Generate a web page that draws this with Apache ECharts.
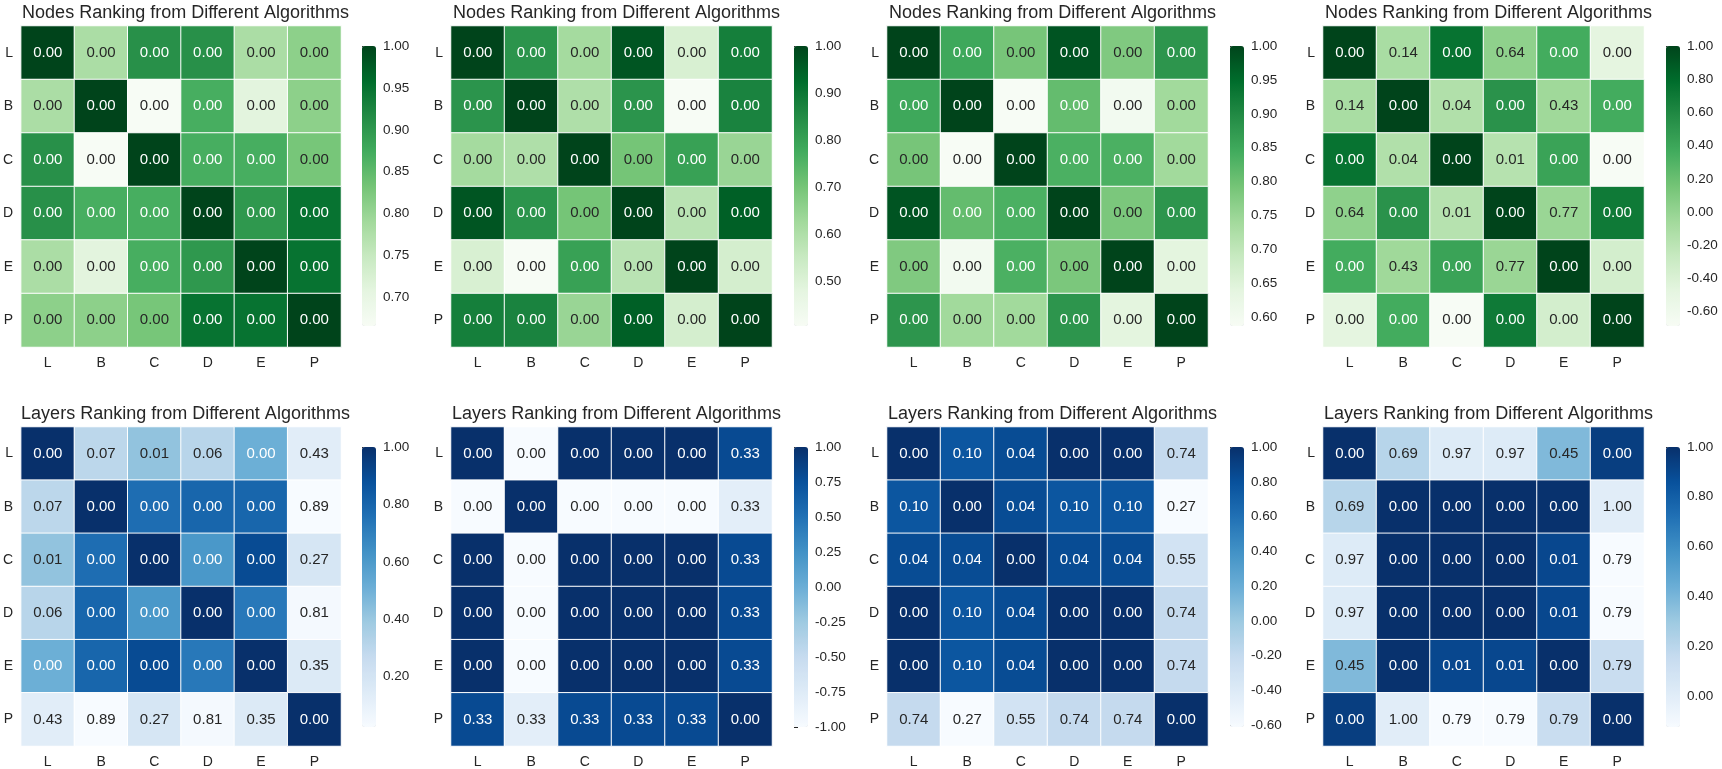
<!DOCTYPE html>
<html><head><meta charset="utf-8">
<script src="https://cdn.jsdelivr.net/npm/echarts@6/dist/echarts.min.js"></script>
<style>html,body{margin:0;padding:0;background:#fff}#c{width:1722px;height:769px}</style>
</head><body><div id="c"></div>
<script>
// ---------- data ----------
const categories = ['L', 'B', 'C', 'D', 'E', 'P'];
const nodesTitle = 'Nodes Ranking from Different Algorithms';
const layersTitle = 'Layers Ranking from Different Algorithms';

// colour values (correlations)
const nodesCorr1 = [
  [1.00, 0.78, 0.91, 0.91, 0.78, 0.81],
  [0.78, 1.00, 0.666, 0.87, 0.71, 0.81],
  [0.91, 0.666, 1.00, 0.87, 0.87, 0.83],
  [0.91, 0.87, 0.87, 1.00, 0.90, 0.95],
  [0.78, 0.71, 0.87, 0.90, 1.00, 0.95],
  [0.81, 0.81, 0.83, 0.95, 0.95, 1.00]
];
const nodesCorr2 = [
  [1.00, 0.83, 0.62, 0.97, 0.51, 0.88],
  [0.83, 1.00, 0.60, 0.83, 0.404, 0.87],
  [0.62, 0.60, 1.00, 0.70, 0.80, 0.64],
  [0.97, 0.83, 0.70, 1.00, 0.58, 0.95],
  [0.51, 0.404, 0.80, 0.58, 1.00, 0.52],
  [0.88, 0.87, 0.64, 0.95, 0.52, 1.00]
];
const nodesCorr3 = [
  [1.00, 0.85, 0.79, 0.98, 0.78, 0.88],
  [0.85, 1.00, 0.587, 0.81, 0.60, 0.74],
  [0.79, 0.587, 1.00, 0.835, 0.835, 0.74],
  [0.98, 0.81, 0.835, 1.00, 0.785, 0.88],
  [0.78, 0.60, 0.835, 0.785, 1.00, 0.64],
  [0.88, 0.74, 0.74, 0.88, 0.64, 1.00]
];
const nodesCorr4 = [
  [1.00, -0.10, 0.75, 0.03, 0.36, -0.48],
  [-0.10, 1.00, -0.14, 0.53, -0.05, 0.36],
  [0.75, -0.14, 1.00, -0.17, 0.42, -0.686],
  [0.03, 0.53, -0.17, 1.00, -0.02, 0.70],
  [0.36, -0.05, 0.42, -0.02, 1.00, -0.35],
  [-0.48, 0.36, -0.686, 0.70, -0.35, 1.00]
];
const layersCorr1 = [
  [1.00, 0.30, 0.42, 0.31, 0.51, 0.13],
  [0.30, 1.00, 0.77, 0.80, 0.80, 0.025],
  [0.42, 0.77, 1.00, 0.61, 0.90, 0.185],
  [0.31, 0.80, 0.61, 1.00, 0.73, 0.04],
  [0.51, 0.80, 0.90, 0.73, 1.00, 0.157],
  [0.13, 0.025, 0.185, 0.04, 0.157, 1.00]
];
const layersCorr2 = [
  [1.00, -1.00, 1.00, 1.00, 1.00, 0.80],
  [-1.00, 1.00, -1.00, -1.00, -1.00, -0.80],
  [1.00, -1.00, 1.00, 1.00, 1.00, 0.80],
  [1.00, -1.00, 1.00, 1.00, 1.00, 0.80],
  [1.00, -1.00, 1.00, 1.00, 1.00, 0.80],
  [0.80, -0.80, 0.80, 0.80, 0.80, 1.00]
];
const layersCorr3 = [
  [1.00, 0.77, 0.83, 1.00, 1.00, -0.20],
  [0.77, 1.00, 0.83, 0.77, 0.77, -0.61],
  [0.83, 0.83, 1.00, 0.83, 0.83, -0.31],
  [1.00, 0.77, 0.83, 1.00, 1.00, -0.20],
  [1.00, 0.77, 0.83, 1.00, 1.00, -0.20],
  [-0.20, -0.61, -0.31, -0.20, -0.20, 1.00]
];
const layersCorr4 = [
  [1.00, 0.21, 0.02, 0.02, 0.38, 0.94],
  [0.21, 1.00, 1.00, 1.00, 0.99, 0.00],
  [0.02, 1.00, 1.00, 1.00, 0.90, -0.125],
  [0.02, 1.00, 1.00, 1.00, 0.90, -0.125],
  [0.38, 0.99, 0.90, 0.90, 1.00, 0.14],
  [0.94, 0.00, -0.125, -0.125, 0.14, 1.00]
];

// annotation values written in the cells
const nodesP1 = [
  [0.00, 0.00, 0.00, 0.00, 0.00, 0.00],
  [0.00, 0.00, 0.00, 0.00, 0.00, 0.00],
  [0.00, 0.00, 0.00, 0.00, 0.00, 0.00],
  [0.00, 0.00, 0.00, 0.00, 0.00, 0.00],
  [0.00, 0.00, 0.00, 0.00, 0.00, 0.00],
  [0.00, 0.00, 0.00, 0.00, 0.00, 0.00]
];
const nodesP2 = [
  [0.00, 0.00, 0.00, 0.00, 0.00, 0.00],
  [0.00, 0.00, 0.00, 0.00, 0.00, 0.00],
  [0.00, 0.00, 0.00, 0.00, 0.00, 0.00],
  [0.00, 0.00, 0.00, 0.00, 0.00, 0.00],
  [0.00, 0.00, 0.00, 0.00, 0.00, 0.00],
  [0.00, 0.00, 0.00, 0.00, 0.00, 0.00]
];
const nodesP3 = [
  [0.00, 0.00, 0.00, 0.00, 0.00, 0.00],
  [0.00, 0.00, 0.00, 0.00, 0.00, 0.00],
  [0.00, 0.00, 0.00, 0.00, 0.00, 0.00],
  [0.00, 0.00, 0.00, 0.00, 0.00, 0.00],
  [0.00, 0.00, 0.00, 0.00, 0.00, 0.00],
  [0.00, 0.00, 0.00, 0.00, 0.00, 0.00]
];
const nodesP4 = [
  [0.00, 0.14, 0.00, 0.64, 0.00, 0.00],
  [0.14, 0.00, 0.04, 0.00, 0.43, 0.00],
  [0.00, 0.04, 0.00, 0.01, 0.00, 0.00],
  [0.64, 0.00, 0.01, 0.00, 0.77, 0.00],
  [0.00, 0.43, 0.00, 0.77, 0.00, 0.00],
  [0.00, 0.00, 0.00, 0.00, 0.00, 0.00]
];
const layersP1 = [
  [0.00, 0.07, 0.01, 0.06, 0.00, 0.43],
  [0.07, 0.00, 0.00, 0.00, 0.00, 0.89],
  [0.01, 0.00, 0.00, 0.00, 0.00, 0.27],
  [0.06, 0.00, 0.00, 0.00, 0.00, 0.81],
  [0.00, 0.00, 0.00, 0.00, 0.00, 0.35],
  [0.43, 0.89, 0.27, 0.81, 0.35, 0.00]
];
const layersP2 = [
  [0.00, 0.00, 0.00, 0.00, 0.00, 0.33],
  [0.00, 0.00, 0.00, 0.00, 0.00, 0.33],
  [0.00, 0.00, 0.00, 0.00, 0.00, 0.33],
  [0.00, 0.00, 0.00, 0.00, 0.00, 0.33],
  [0.00, 0.00, 0.00, 0.00, 0.00, 0.33],
  [0.33, 0.33, 0.33, 0.33, 0.33, 0.00]
];
const layersP3 = [
  [0.00, 0.10, 0.04, 0.00, 0.00, 0.74],
  [0.10, 0.00, 0.04, 0.10, 0.10, 0.27],
  [0.04, 0.04, 0.00, 0.04, 0.04, 0.55],
  [0.00, 0.10, 0.04, 0.00, 0.00, 0.74],
  [0.00, 0.10, 0.04, 0.00, 0.00, 0.74],
  [0.74, 0.27, 0.55, 0.74, 0.74, 0.00]
];
const layersP4 = [
  [0.00, 0.69, 0.97, 0.97, 0.45, 0.00],
  [0.69, 0.00, 0.00, 0.00, 0.00, 1.00],
  [0.97, 0.00, 0.00, 0.00, 0.01, 0.79],
  [0.97, 0.00, 0.00, 0.00, 0.01, 0.79],
  [0.45, 0.00, 0.01, 0.01, 0.00, 0.79],
  [0.00, 1.00, 0.79, 0.79, 0.79, 0.00]
];

// colour bar tick labels
const nodesTicks1 = [0.70, 0.75, 0.80, 0.85, 0.90, 0.95, 1.00];
const nodesTicks2 = [0.50, 0.60, 0.70, 0.80, 0.90, 1.00];
const nodesTicks3 = [0.60, 0.65, 0.70, 0.75, 0.80, 0.85, 0.90, 0.95, 1.00];
const nodesTicks4 = [-0.60, -0.40, -0.20, 0.00, 0.20, 0.40, 0.60, 0.80, 1.00];
const layersTicks1 = [0.20, 0.40, 0.60, 0.80, 1.00];
const layersTicks2 = [-1.00, -0.75, -0.50, -0.25, 0.00, 0.25, 0.50, 0.75, 1.00];
const layersTicks3 = [-0.60, -0.40, -0.20, 0.00, 0.20, 0.40, 0.60, 0.80, 1.00];
const layersTicks4 = [0.00, 0.20, 0.40, 0.60, 0.80, 1.00];

// ---------- styles / layout ----------
const GREENS = ['#f7fcf5', '#e5f5e0', '#c7e9c0', '#a1d99b', '#74c476', '#41ab5d', '#238b45', '#006d2c', '#00441b'];
const BLUES = ['#f7fbff', '#deebf7', '#c6dbef', '#9ecae1', '#6baed6', '#4292c6', '#2171b5', '#08519c', '#08306b'];
const FONT = '"Liberation Sans", Arial, Helvetica, sans-serif';
const TXT = '#262626';

const panels = [
  { title: nodesTitle, r: nodesCorr1, p: nodesP1, ticks: nodesTicks1, cmap: GREENS, row: 0, col: 0 },
  { title: nodesTitle, r: nodesCorr2, p: nodesP2, ticks: nodesTicks2, cmap: GREENS, row: 0, col: 1 },
  { title: nodesTitle, r: nodesCorr3, p: nodesP3, ticks: nodesTicks3, cmap: GREENS, row: 0, col: 2 },
  { title: nodesTitle, r: nodesCorr4, p: nodesP4, ticks: nodesTicks4, cmap: GREENS, row: 0, col: 3 },
  { title: layersTitle, r: layersCorr1, p: layersP1, ticks: layersTicks1, cmap: BLUES, row: 1, col: 0 },
  { title: layersTitle, r: layersCorr2, p: layersP2, ticks: layersTicks2, cmap: BLUES, row: 1, col: 1 },
  { title: layersTitle, r: layersCorr3, p: layersP3, ticks: layersTicks3, cmap: BLUES, row: 1, col: 2 },
  { title: layersTitle, r: layersCorr4, p: layersP4, ticks: layersTicks4, cmap: BLUES, row: 1, col: 3 }
];

const colX = [20, 451, 887, 1323];
const rowY = [26, 427];
const hmW = 321, hmH = 321;
const cbX = [362, 794, 1230, 1666];
const cbY = [46, 447];
const cbW = 14, cbH = 280;

function hexToRgb(h) { return [1, 3, 5].map(i => parseInt(h.substr(i, 2), 16)); }
function cmapAt(stops, t) {
  t = Math.max(0, Math.min(1, t));
  const s = t * (stops.length - 1);
  const i = Math.min(stops.length - 2, Math.floor(s));
  const f = s - i;
  const a = hexToRgb(stops[i]), b = hexToRgb(stops[i + 1]);
  return a.map((v, k) => v + (b[k] - v) * f);
}
function lum(rgb) {
  const c = rgb.map(v => { v /= 255; return v <= 0.03928 ? v / 12.92 : Math.pow((v + 0.055) / 1.055, 2.4); });
  return 0.2126 * c[0] + 0.7152 * c[1] + 0.0722 * c[2];
}

const option = {
  backgroundColor: '#fff',
  animation: false,
  title: [], grid: [], xAxis: [], yAxis: [], series: [], visualMap: []
};

panels.forEach((pn, i) => {
  const flat = pn.r.flat();
  const vmin = Math.min(...flat), vmax = Math.max(...flat);
  const gx = colX[pn.col], gy = rowY[pn.row];
  option.title.push({
    text: pn.title, left: gx + hmW / 2, top: gy - 27, textAlign: 'center',
    textStyle: { fontFamily: FONT, fontSize: 18, fontWeight: 'normal', color: TXT, lineHeight: 18 }
  });
  option.grid.push({ left: gx, top: gy, width: hmW, height: hmH });
  option.xAxis.push({
    type: 'category', gridIndex: i, data: categories,
    axisLine: { show: false }, axisTick: { show: false }, splitLine: { show: false },
    axisLabel: { fontFamily: FONT, fontSize: 14, color: TXT, margin: 9 }
  });
  option.yAxis.push({
    type: 'category', gridIndex: i, data: categories, inverse: true,
    axisLine: { show: false }, axisTick: { show: false }, splitLine: { show: false },
    axisLabel: { fontFamily: FONT, fontSize: 14, color: TXT, margin: 8 }
  });
  const data = [];
  pn.r.forEach((row, yi) => row.forEach((v, xi) => {
    const rgb = cmapAt(pn.cmap, (v - vmin) / (vmax - vmin));
    data.push({
      value: [xi, yi, v, pn.p[yi][xi]],
      label: { color: lum(rgb) > 0.408 ? TXT : '#ffffff' }
    });
  }));
  option.series.push({
    type: 'heatmap', xAxisIndex: i, yAxisIndex: i, data: data,
    itemStyle: { borderColor: '#ffffff', borderWidth: 1 },
    label: { show: true, fontFamily: FONT, fontSize: 15, formatter: p => p.value[3].toFixed(2) },
    emphasis: { disabled: true }
  });
  option.visualMap.push({
    type: 'continuous', seriesIndex: i, dimension: 2, min: vmin, max: vmax,
    inRange: { color: pn.cmap }, calculable: false, hoverLink: false, realtime: false,
    left: cbX[pn.col], top: cbY[pn.row], itemWidth: cbW, itemHeight: cbH, padding: 0,
    orient: 'vertical', text: null, showLabel: false
  });
});

// colour bar axes
panels.forEach((pn, i) => {
  const flat = pn.r.flat();
  const vmin = Math.min(...flat), vmax = Math.max(...flat);
  const gi = option.grid.length;
  option.grid.push({ left: cbX[pn.col], top: cbY[pn.row], width: cbW, height: cbH });
  option.xAxis.push({ type: 'value', gridIndex: gi, show: false, min: 0, max: 1 });
  option.yAxis.push({
    type: 'value', gridIndex: gi, position: 'right', min: vmin, max: vmax,
    axisLine: { show: false }, splitLine: { show: false },
    axisTick: { show: true, length: 4, lineStyle: { color: TXT, width: 1 }, customValues: pn.ticks },
    axisLabel: { show: true, fontFamily: FONT, fontSize: 13.5, color: TXT, margin: 7,
      customValues: pn.ticks, formatter: v => v.toFixed(2) }
  });
});

const chart = echarts.init(document.getElementById('c'), null, { renderer: 'canvas' });
chart.setOption(option);
</script>
</body></html>
